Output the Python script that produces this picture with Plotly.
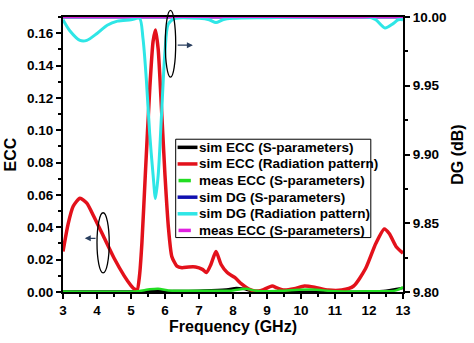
import plotly.graph_objects as go

# Frequency grid and values for each curve
freq_red = [3.0, 3.15, 3.3, 3.5, 3.7, 3.9, 4.2, 4.5, 4.8, 5.0, 5.1, 5.18, 5.25, 5.32, 5.42, 5.55,
            5.65, 5.72, 5.8, 5.9, 6.0, 6.1, 6.2, 6.35, 6.5, 6.7, 6.9, 7.1, 7.22, 7.35, 7.5, 7.65,
            7.83, 8.05, 8.25, 8.45, 8.6, 8.75, 8.9, 9.15, 9.3, 9.5, 9.8, 10.1, 10.4, 10.8, 11.2,
            11.55, 11.9, 12.2, 12.45, 12.6, 12.8, 13.0]
ecc_rad_sim = [0.025, 0.042, 0.053, 0.058, 0.055, 0.047, 0.034, 0.021, 0.010, 0.004, 0.0018,
               0.0012, 0.010, 0.030, 0.072, 0.125, 0.155, 0.162, 0.150, 0.112, 0.072, 0.040,
               0.022, 0.016, 0.015, 0.0155, 0.0155, 0.014, 0.012, 0.017, 0.025, 0.017, 0.012,
               0.009, 0.005, 0.002, 0.0008, 0.0006, 0.0015, 0.0037, 0.0025, 0.0012, 0.002,
               0.0037, 0.003, 0.0012, 0.0012, 0.0037, 0.0145, 0.030, 0.039, 0.036, 0.028, 0.024]

freq_cyan = [3.0, 3.2, 3.5, 3.7, 4.0, 4.3, 4.6, 5.0, 5.25, 5.35, 5.45, 5.55, 5.65, 5.72, 5.8,
             5.9, 6.0, 6.1, 6.3, 7.0, 7.3, 7.5, 7.7, 8.0, 9.0, 10.0, 12.0, 12.2, 12.47, 12.7,
             12.86, 13.0]
dg_rad_sim = [9.998, 9.990, 9.983, 9.983, 9.988, 9.994, 9.997, 9.998, 9.999, 9.985, 9.955,
              9.915, 9.885, 9.868, 9.885, 9.930, 9.975, 9.995, 9.999, 9.999, 9.998, 9.996,
              9.998, 9.999, 9.9995, 10.0, 10.0, 9.998, 9.992, 9.995, 9.998, 9.998]

freq_black = [3.0, 5.0, 6.0, 7.0, 7.8, 8.1, 8.3, 8.6, 10.0, 12.0, 12.5, 12.8, 13.0]
ecc_s_sim = [0.0003, 0.0003, 0.0005, 0.0008, 0.0015, 0.0025, 0.002, 0.0003, 0.0002, 0.0003,
             0.0008, 0.0018, 0.0025]

freq_green = [3.0, 5.2, 5.5, 5.8, 6.1, 7.5, 8.0, 8.4, 8.6, 9.0, 9.6, 10.3, 11.0, 12.0, 12.8, 13.0]
ecc_s_meas = [0.0003, 0.0005, 0.0015, 0.002, 0.001, 0.0008, 0.001, 0.002, 0.001, 0.0005,
              0.001, 0.0015, 0.0005, 0.0004, 0.001, 0.003]

freq_flat = [3.0, 13.0]
dg_s_sim = [10.0, 10.0]
dg_meas = [10.0, 10.0]

x_ticks = list(range(3, 14))

series_names = ["sim ECC (S-parameters)", "sim ECC (Radiation pattern)", "meas ECC (S-parameters)",
                "sim DG (S-parameters)", "sim DG (Radiation pattern)", "meas ECC (S-parameters)"]
series_colors = ["black", "#e3111b", "#22dd22", "#1010b0", "#2ee6e6", "#e020e0"]

FONT = "Arial, Liberation Sans, sans-serif"

fig = go.Figure()
fig.add_trace(go.Scatter(x=freq_black, y=ecc_s_sim, name=series_names[0],
                         mode="lines", line=dict(color=series_colors[0], width=2.5, shape="spline")))
fig.add_trace(go.Scatter(x=freq_red, y=ecc_rad_sim, name=series_names[1],
                         mode="lines", line=dict(color=series_colors[1], width=3.5, shape="spline", smoothing=0.6)))
fig.add_trace(go.Scatter(x=freq_green, y=ecc_s_meas, name=series_names[2],
                         mode="lines", line=dict(color=series_colors[2], width=2.5, shape="spline")))
fig.add_trace(go.Scatter(x=freq_flat, y=dg_s_sim, name=series_names[3], yaxis="y2",
                         mode="lines", line=dict(color=series_colors[3], width=3)))
fig.add_trace(go.Scatter(x=freq_cyan, y=dg_rad_sim, name=series_names[4], yaxis="y2",
                         mode="lines", line=dict(color=series_colors[4], width=3, shape="spline", smoothing=0.8)))
fig.add_trace(go.Scatter(x=freq_flat, y=dg_meas, name=series_names[5], yaxis="y2",
                         mode="lines", line=dict(color=series_colors[5], width=2)))

# Pixel-to-paper helpers for the decorations below
plot_w, plot_h, left, top = 359, 288, 57, 10


def px_x(p):
    return (p - left) / plot_w


def px_y(p):
    return (top + plot_h - p) / plot_h


# Ellipses marking which axis each curve group belongs to, with arrows
fig.add_shape(type="circle", xref="x", yref="y", x0=4.0, x1=4.36, y0=0.0118, y1=0.049,
              line=dict(color="black", width=1.3))
fig.add_shape(type="circle", xref="paper", yref="paper", x0=px_x(165), x1=px_x(176),
              y0=px_y(73), y1=px_y(3), line=dict(color="black", width=1.3))
fig.add_annotation(x=3.64, y=0.0332, ax=4.0, ay=0.0332, xref="x", yref="y", axref="x", ayref="y",
                   showarrow=True, arrowhead=2, arrowsize=1, arrowwidth=1.2, text="")
fig.add_annotation(x=6.82, y=0.1526, ax=6.33, ay=0.1526, xref="x", yref="y", axref="x", ayref="y",
                   showarrow=True, arrowhead=2, arrowsize=1, arrowwidth=1.2, text="")

# Compact boxed legend drawn in paper coordinates
fig.add_shape(type="rect", xref="paper", yref="paper", x0=px_x(176), x1=px_x(382),
              y0=px_y(241), y1=px_y(138), fillcolor="white", line=dict(color="black", width=1),
              layer="above")
short_sample = [False, False, True, False, False, True]
for i, (name, color) in enumerate(zip(series_names, series_colors)):
    yc = 146.5 + i * 17.4
    x0, x1 = (179, 192) if short_sample[i] else (178, 199)
    fig.add_shape(type="line", xref="paper", yref="paper", x0=px_x(x0), x1=px_x(x1),
                  y0=px_y(yc), y1=px_y(yc), line=dict(color=color, width=3.5), layer="above")
    fig.add_annotation(x=px_x(199), y=px_y(yc), xref="paper", yref="paper", text=name,
                       showarrow=False, xanchor="left", yanchor="middle",
                       font=dict(family=FONT, size=13.5, color="black", weight="bold"))

axis_font = dict(family=FONT, size=13.5, color="black", weight="bold")
title_font = dict(family=FONT, size=16, color="black", weight="bold")

fig.update_layout(
    width=474, height=343,
    margin=dict(l=57, r=58, t=10, b=45),
    paper_bgcolor="white", plot_bgcolor="white",
    font=dict(family=FONT, color="black"),
    showlegend=False,
    xaxis=dict(range=[3, 13], tickvals=x_ticks, showline=True, linecolor="black", linewidth=2,
               mirror=True, ticks="outside", ticklen=5, tickwidth=2, tickcolor="black",
               minor=dict(ticks="outside", dtick=0.5, ticklen=3, tickwidth=1.5, tickcolor="black"),
               showgrid=False, zeroline=False, tickfont=axis_font,
               title=dict(text="Frequency (GHz)", font=title_font, standoff=4)),
    yaxis=dict(range=[0, 0.17], dtick=0.02, tick0=0, tickformat=".2f", showline=True,
               linecolor="black", linewidth=2, ticks="outside", ticklen=5, tickwidth=2,
               tickcolor="black",
               minor=dict(ticks="outside", dtick=0.01, ticklen=3, tickwidth=1.5, tickcolor="black"),
               showgrid=False, zeroline=False, tickfont=axis_font,
               title=dict(text="ECC", font=title_font, standoff=6)),
    yaxis2=dict(range=[9.80, 10.00], dtick=0.05, tick0=9.80, tickformat=".2f", overlaying="y",
                side="right", showline=True, linecolor="black", linewidth=2, ticks="outside",
                ticklen=5, tickwidth=2, tickcolor="black",
                minor=dict(ticks="outside", dtick=0.025, ticklen=3, tickwidth=1.5, tickcolor="black"),
                showgrid=False, zeroline=False, tickfont=axis_font,
                title=dict(text="DG (dB)", font=title_font, standoff=6)),
)

fig.write_html("out.html")
